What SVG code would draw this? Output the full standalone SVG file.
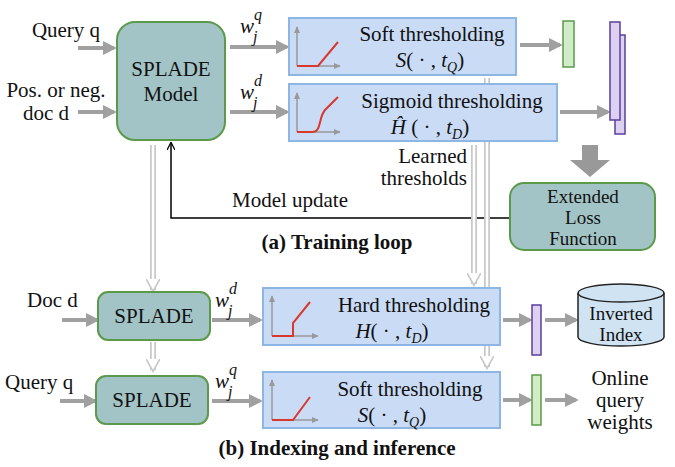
<svg xmlns="http://www.w3.org/2000/svg" width="675" height="467" viewBox="0 0 675 467" font-family="'Liberation Serif','Times New Roman','DejaVu Serif',serif">
<defs>
<marker id="ga" viewBox="0 0 10 10" refX="8" refY="5" markerWidth="14" markerHeight="14" orient="auto" markerUnits="userSpaceOnUse"><path d="M0,0 L10,5 L0,10 z" fill="#a0a0a0"/></marker>
<marker id="ba" viewBox="0 0 10 10" refX="9" refY="5" markerWidth="8" markerHeight="8" orient="auto" markerUnits="userSpaceOnUse"><path d="M0,0 L10,5 L0,10" fill="none" stroke="#000" stroke-width="1.5"/></marker>
<marker id="ha" viewBox="0 0 10 10" refX="8" refY="5" markerWidth="14" markerHeight="14" orient="auto" markerUnits="userSpaceOnUse"><path d="M0,0 L9,5 L0,10" fill="#fff" stroke="#c8c8c8" stroke-width="1.2"/></marker>
<marker id="pa" viewBox="0 0 10 10" refX="8" refY="5" markerWidth="8" markerHeight="8" orient="auto" markerUnits="userSpaceOnUse"><path d="M0,1 L9,5 L0,9 z" fill="#999"/></marker>
</defs>
<style>
text{font-family:'Liberation Serif','Times New Roman','DejaVu Serif',serif;font-size:21px;fill:#111}
.m{font-style:italic}
.node{fill:#a3c4c6;stroke:#5a9a4a;stroke-width:2}
.th{fill:#c9dbf5;stroke:#8eb6e3;stroke-width:2}
.arr{stroke:#a0a0a0;stroke-width:4;fill:none;marker-end:url(#ga)}
.dl{stroke:#c8c8c8;stroke-width:6;fill:none}
.dli{stroke:#fff;stroke-width:2.5;fill:none}
.ax{stroke:#999;stroke-width:1.5;fill:none;marker-end:url(#pa)}
.rd{stroke:#d9382e;stroke-width:2;fill:none}
.gb{fill:#d3ecc8;stroke:#5a9a4a;stroke-width:1.5}
.pb{fill:#ddd0f0;stroke:#5b3f9e;stroke-width:1.5}
.b{font-weight:bold}
.sm{font-size:19px}
</style>
<g id="connectors">
<line class="arr" x1="78" y1="48" x2="114" y2="48"/>
<line class="arr" x1="78" y1="112" x2="114" y2="112"/>
<line class="arr" x1="230" y1="47" x2="287" y2="47"/>
<line class="arr" x1="230" y1="112" x2="287" y2="112"/>
<line class="arr" x1="520" y1="45" x2="560" y2="45"/>
<line class="arr" x1="560" y1="112" x2="608" y2="112"/>
<path d="M582,145 L598,145 L598,160 L610,160 L590,177 L570,160 L582,160 z" fill="#999"/>
<polyline points="510,218 171,218 171,143" fill="none" stroke="#000" stroke-width="1.5" marker-end="url(#ba)"/>
<g>
<line class="dl" x1="153" y1="145" x2="153" y2="290" marker-end="url(#ha)"/><line class="dli" x1="153" y1="145" x2="153" y2="286"/>
<line class="dl" x1="153" y1="342" x2="153" y2="370" marker-end="url(#ha)"/><line class="dli" x1="153" y1="342" x2="153" y2="366"/>
<line class="dl" x1="474" y1="145" x2="474" y2="284" marker-end="url(#ha)"/><line class="dli" x1="474" y1="145" x2="474" y2="280"/>
<line class="dl" x1="487" y1="78" x2="487" y2="367" marker-end="url(#ha)"/><line class="dli" x1="487" y1="78" x2="487" y2="363"/>
</g>
<line class="arr" x1="62" y1="320" x2="97" y2="320"/>
<line class="arr" x1="60" y1="401" x2="95" y2="401"/>
<line class="arr" x1="212" y1="320" x2="260" y2="320"/>
<line class="arr" x1="212" y1="401" x2="260" y2="401"/>
<line class="arr" x1="503" y1="320" x2="530" y2="320"/>
<line class="arr" x1="545" y1="320" x2="576" y2="320"/>
<line class="arr" x1="503" y1="400" x2="530" y2="400"/>
<line class="arr" x1="545" y1="400" x2="576" y2="400"/>
</g>
<text x="66" y="37" text-anchor="middle">Query q</text>
<text x="56" y="97" text-anchor="middle">Pos. or neg.</text>
<text x="46" y="120" text-anchor="middle">doc d</text>
<g id="splade-model"><rect class="node" x="117" y="22" width="108" height="118" rx="18"/>
<text x="171" y="76" text-anchor="middle">SPLADE</text><text x="171" y="101" text-anchor="middle">Model</text></g>
<text x="240" y="33" class="m" font-size="26">w<tspan font-size="16" dy="-13">q</tspan><tspan font-size="16" dx="-9" dy="22">j</tspan></text>
<text x="240" y="99" class="m" font-size="26">w<tspan font-size="16" dy="-13">d</tspan><tspan font-size="16" dx="-9" dy="22">j</tspan></text>
<g id="soft-top"><rect class="th" x="289" y="18" width="227" height="57"/>
<line class="ax" x1="297" y1="66" x2="297" y2="27"/><line class="ax" x1="297" y1="66" x2="340" y2="66"/>
<polyline class="rd" points="297,66 318,66 338,42"/>
<text x="432" y="41" text-anchor="middle">Soft thresholding</text>
<text x="430" y="67" text-anchor="middle"><tspan class="m">S</tspan>( · , <tspan class="m">t</tspan><tspan class="m" font-size="14" dy="5">Q</tspan><tspan dy="-5">)</tspan></text></g>
<g id="sigmoid"><rect class="th" x="289" y="84" width="268" height="57"/>
<line class="ax" x1="297" y1="132" x2="297" y2="93"/><line class="ax" x1="297" y1="132" x2="340" y2="132"/>
<path class="rd" d="M297,132 L312,132 C322,132 318,118 325,110 L338,97"/>
<text x="452" y="108" text-anchor="middle">Sigmoid thresholding</text>
<text x="430" y="134" text-anchor="middle"><tspan class="m">Ĥ</tspan> ( · , <tspan class="m">t</tspan><tspan class="m" font-size="14" dy="5">D</tspan><tspan dy="-5">)</tspan></text></g>
<rect class="gb" x="563" y="21" width="11" height="46"/>
<rect class="pb" x="615" y="35" width="10" height="99"/>
<rect class="pb" x="610" y="22" width="10" height="98"/>
<text x="467" y="163" text-anchor="end" font-size="17">Learned</text>
<text x="467" y="185" text-anchor="end" font-size="17">thresholds</text>
<text x="290" y="207" text-anchor="middle" font-size="19">Model update</text>
<g id="loss"><rect class="node" x="510" y="183" width="145" height="67" rx="14"/>
<text x="583" y="203" text-anchor="middle" class="sm">Extended</text><text x="583" y="224" text-anchor="middle" class="sm">Loss</text><text x="583" y="245" text-anchor="middle" class="sm">Function</text></g>
<text x="337" y="249" text-anchor="middle" class="b">(a) Training loop</text>
<text x="27" y="307">Doc d</text>
<text x="5" y="389">Query q</text>
<g id="splade-d"><rect class="node" x="98" y="292" width="112" height="48" rx="10"/><text x="154" y="323" text-anchor="middle">SPLADE</text></g>
<g id="splade-q"><rect class="node" x="96" y="376" width="112" height="48" rx="10"/><text x="152" y="407" text-anchor="middle">SPLADE</text></g>
<text x="215" y="307" class="m" font-size="26">w<tspan font-size="16" dy="-13">d</tspan><tspan font-size="16" dx="-9" dy="22">j</tspan></text>
<text x="215" y="388" class="m" font-size="26">w<tspan font-size="16" dy="-13">q</tspan><tspan font-size="16" dx="-9" dy="22">j</tspan></text>
<g id="hard"><rect class="th" x="263" y="288" width="237" height="57"/>
<line class="ax" x1="272" y1="336" x2="272" y2="296"/><line class="ax" x1="272" y1="336" x2="318" y2="336"/>
<polyline class="rd" points="272,336 293,336 293,323 310,302"/>
<text x="414" y="312" text-anchor="middle">Hard thresholding</text>
<text x="392" y="338" text-anchor="middle"><tspan class="m">H</tspan>( · , <tspan class="m">t</tspan><tspan class="m" font-size="14" dy="5">D</tspan><tspan dy="-5">)</tspan></text></g>
<g id="soft-bottom"><rect class="th" x="263" y="372" width="237" height="56"/>
<line class="ax" x1="272" y1="420" x2="272" y2="380"/><line class="ax" x1="272" y1="420" x2="318" y2="420"/>
<polyline class="rd" points="272,420 293,420 310,397"/>
<text x="410" y="396" text-anchor="middle">Soft thresholding</text>
<text x="392" y="422" text-anchor="middle"><tspan class="m">S</tspan>( · , <tspan class="m">t</tspan><tspan class="m" font-size="14" dy="5">Q</tspan><tspan dy="-5">)</tspan></text></g>
<rect class="pb" x="532" y="305" width="9" height="50"/>
<rect class="gb" x="532" y="375" width="9" height="50"/>
<g id="index"><path d="M578,293 L578,337 A43,9 0 0 0 664,337 L664,293" fill="#cfe3f3" stroke="#222" stroke-width="1.5"/>
<ellipse cx="621" cy="293" rx="43" ry="9" fill="#cfe3f3" stroke="#222" stroke-width="1.5"/>
<text x="621" y="320" text-anchor="middle" class="sm">Inverted</text><text x="621" y="341" text-anchor="middle" class="sm">Index</text></g>
<text x="620" y="385" text-anchor="middle">Online</text>
<text x="620" y="407" text-anchor="middle">query</text>
<text x="620" y="429" text-anchor="middle">weights</text>
<text x="337" y="455" text-anchor="middle" class="b">(b) Indexing and inference</text>
</svg>
